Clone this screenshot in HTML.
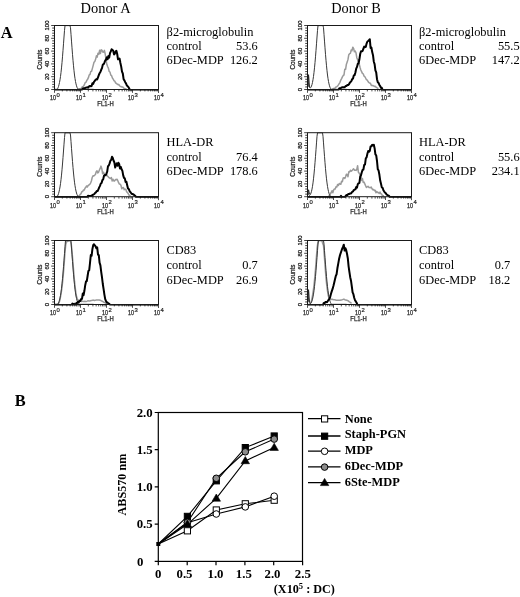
<!DOCTYPE html>
<html><head><meta charset="utf-8"><title>Figure</title>
<style>
html,body{margin:0;padding:0;background:#fff;}
body{width:520px;height:597px;overflow:hidden;}
svg{display:block;}
</style></head><body>
<svg width="520" height="597" viewBox="0 0 520 597">
<rect width="520" height="597" fill="#fff"/>
<g><clipPath id="c3"><rect x="54.0" y="25.0" width="105.0" height="65.6"/></clipPath><g clip-path="url(#c3)">
<path d="M78.0 89.2 L78.8 89.1 L79.6 88.8 L80.4 88.9 L81.2 88.4 L82.0 87.2 L82.8 86.6 L83.6 86.2 L84.4 84.7 L85.2 82.6 L86.0 82.3 L86.8 80.4 L87.6 79.3 L88.4 77.7 L89.2 74.9 L90.0 74.5 L90.8 71.4 L91.6 71.3 L92.4 68.4 L93.2 65.4 L94.0 62.3 L94.8 61.4 L95.6 59.3 L96.4 55.8 L97.2 57.2 L98.0 53.2 L98.8 54.3 L99.6 50.3 L100.4 53.5 L101.2 49.7 L102.0 50.4 L102.8 52.1 L103.6 52.2 L104.4 50.4 L105.2 54.0 L106.0 59.2 L106.8 64.3 L107.6 66.5 L108.4 68.1 L109.2 71.5 L110.0 72.1 L110.8 75.1 L111.6 75.7 L112.4 78.0 L113.2 79.1 L114.0 80.8 L114.8 81.1 L115.6 83.0 L116.4 83.3 L117.2 84.2 L118.0 84.7 L118.8 84.4 L119.6 85.8 L120.4 86.5 L121.2 86.6 L122.0 87.1 L122.8 87.1 L123.6 88.0 L124.4 88.4 L125.2 88.7 L126.0 89.2 L126.8 89.1" fill="none" stroke="#9a9a9a" stroke-width="1.50" stroke-linejoin="round"/>
<path d="M54.5 89.3 L55.0 89.3 L55.5 89.3 L56.0 89.3 L56.5 89.3 L57.0 89.3 L57.5 88.8 L58.0 87.8 L58.5 86.5 L59.0 84.7 L59.5 82.5 L60.0 79.8 L60.5 76.5 L61.0 72.5 L61.5 67.9 L62.0 62.6 L62.5 56.8 L63.0 50.4 L63.5 43.8 L64.0 37.0 L64.5 30.4 L65.0 25.6 L65.5 25.6 L66.0 25.6 L66.5 25.6 L67.0 25.6 L67.5 25.6 L68.0 25.6 L68.5 25.6 L69.0 25.6 L69.5 25.6 L70.0 25.6 L70.5 27.8 L71.0 34.3 L71.5 41.1 L72.0 47.8 L72.5 54.3 L73.0 60.3 L73.5 65.8 L74.0 70.7 L74.5 75.0 L75.0 78.5 L75.5 81.5 L76.0 83.9 L76.5 85.8 L77.0 87.3 L77.5 88.4 L78.0 89.3 L78.5 89.3 L79.0 89.3 L79.5 89.3 L80.0 89.3 L80.5 89.3 L81.0 89.3 L81.5 89.3 L82.0 89.3 L82.5 89.3 L83.0 89.3 L83.5 89.3 L84.0 89.3 L84.5 89.3 L85.0 89.3 L85.5 89.3 L86.0 89.3 L86.5 89.3 L87.0 89.3 L87.5 89.3 L88.0 89.3 L88.5 89.3 L89.0 89.3 L89.5 89.3 L90.0 89.3 L90.5 89.3 L91.0 89.3 L91.5 89.3 L92.0 89.3 L92.5 89.3 L93.0 89.3 L93.5 89.3" fill="none" stroke="#383838" stroke-width="1.0" stroke-linejoin="round"/>
<path d="M55.0 89.9 L78.0 89.9 L78.8 89.9 L79.6 89.9 L80.4 89.9 L81.2 89.9 L82.0 89.9 L82.8 88.4 L83.6 88.3 L84.4 88.4 L85.2 88.0 L86.0 87.5 L86.8 87.6 L87.6 87.3 L88.4 87.6 L89.2 86.1 L90.0 85.9 L90.8 86.3 L91.6 86.0 L92.4 83.3 L93.2 83.9 L94.0 81.9 L94.8 80.9 L95.6 79.7 L96.4 79.3 L97.2 79.4 L98.0 77.3 L98.8 75.2 L99.6 73.2 L100.4 72.0 L101.2 69.8 L102.0 68.1 L102.8 64.6 L103.6 64.2 L104.4 62.6 L105.2 60.5 L106.0 59.7 L106.8 57.4 L107.6 59.3 L108.4 56.1 L109.2 57.7 L110.0 53.1 L110.8 51.4 L111.6 49.3 L112.4 49.8 L113.2 50.7 L114.0 54.4 L114.8 53.7 L115.6 51.5 L116.4 50.8 L117.2 54.0 L118.0 59.3 L118.8 59.3 L119.6 58.6 L120.4 63.0 L121.2 66.6 L122.0 71.7 L122.8 73.5 L123.6 79.2 L124.4 80.4 L125.2 82.2 L126.0 83.4 L126.8 85.4 L127.6 86.2 L128.4 87.1 L129.2 88.5 L130.0 89.9 L158.0 89.9" fill="none" stroke="#000" stroke-width="2.0" stroke-linejoin="round"/>
</g>
<rect x="54.5" y="25.5" width="104.0" height="64.0" fill="none" stroke="#1a1a1a" stroke-width="1"/>
<path d="M51.2 89.50 h3.0 M52.2 86.94 h2.0 M52.2 84.38 h2.0 M52.2 81.82 h2.0 M52.2 79.26 h2.0 M51.2 76.70 h3.0 M52.2 74.14 h2.0 M52.2 71.58 h2.0 M52.2 69.02 h2.0 M52.2 66.46 h2.0 M51.2 63.90 h3.0 M52.2 61.34 h2.0 M52.2 58.78 h2.0 M52.2 56.22 h2.0 M52.2 53.66 h2.0 M51.2 51.10 h3.0 M52.2 48.54 h2.0 M52.2 45.98 h2.0 M52.2 43.42 h2.0 M52.2 40.86 h2.0 M51.2 38.30 h3.0 M52.2 35.74 h2.0 M52.2 33.18 h2.0 M52.2 30.62 h2.0 M52.2 28.06 h2.0 M51.2 25.50 h3.0" stroke="#111" stroke-width="0.8" fill="none"/>
<path d="M54.50 89.8 v3.0 M62.33 89.8 v1.6 M66.91 89.8 v1.6 M70.15 89.8 v1.6 M72.67 89.8 v1.6 M74.73 89.8 v1.6 M76.47 89.8 v1.6 M77.98 89.8 v1.6 M79.31 89.8 v1.6 M80.50 89.8 v3.0 M88.33 89.8 v1.6 M92.91 89.8 v1.6 M96.15 89.8 v1.6 M98.67 89.8 v1.6 M100.73 89.8 v1.6 M102.47 89.8 v1.6 M103.98 89.8 v1.6 M105.31 89.8 v1.6 M106.50 89.8 v3.0 M114.33 89.8 v1.6 M118.91 89.8 v1.6 M122.15 89.8 v1.6 M124.67 89.8 v1.6 M126.73 89.8 v1.6 M128.47 89.8 v1.6 M129.98 89.8 v1.6 M131.31 89.8 v1.6 M132.50 89.8 v3.0 M140.33 89.8 v1.6 M144.91 89.8 v1.6 M148.15 89.8 v1.6 M150.67 89.8 v1.6 M152.73 89.8 v1.6 M154.47 89.8 v1.6 M155.98 89.8 v1.6 M157.31 89.8 v1.6 M158.50 89.8 v3.2" stroke="#111" stroke-width="0.75" fill="none"/>
<text transform="translate(49.2 89.5) rotate(-90)" text-anchor="middle" font-family="Liberation Sans, Arial, sans-serif" font-size="5.9" fill="#222" stroke="#222" stroke-width="0.25">0</text>
<text transform="translate(49.2 76.7) rotate(-90)" text-anchor="middle" font-family="Liberation Sans, Arial, sans-serif" font-size="5.9" fill="#222" stroke="#222" stroke-width="0.25">20</text>
<text transform="translate(49.2 63.9) rotate(-90)" text-anchor="middle" font-family="Liberation Sans, Arial, sans-serif" font-size="5.9" fill="#222" stroke="#222" stroke-width="0.25">40</text>
<text transform="translate(49.2 51.1) rotate(-90)" text-anchor="middle" font-family="Liberation Sans, Arial, sans-serif" font-size="5.9" fill="#222" stroke="#222" stroke-width="0.25">60</text>
<text transform="translate(49.2 38.3) rotate(-90)" text-anchor="middle" font-family="Liberation Sans, Arial, sans-serif" font-size="5.9" fill="#222" stroke="#222" stroke-width="0.25">80</text>
<text transform="translate(49.2 25.5) rotate(-90)" text-anchor="middle" font-family="Liberation Sans, Arial, sans-serif" font-size="5.9" fill="#222" stroke="#222" stroke-width="0.25">100</text>
<text transform="translate(42.1 59.5) rotate(-90)" text-anchor="middle" font-family="Liberation Sans, Arial, sans-serif" font-size="6.6" fill="#222" stroke="#222" stroke-width="0.25" textLength="20" lengthAdjust="spacingAndGlyphs">Counts</text>
<text x="56.1" y="100.4" text-anchor="end" font-family="Liberation Sans, Arial, sans-serif" font-size="6.8" fill="#222" stroke="#222" stroke-width="0.25" textLength="6.0" lengthAdjust="spacingAndGlyphs">10</text>
<text x="56.4" y="96.6" text-anchor="start" font-family="Liberation Sans, Arial, sans-serif" font-size="5.9" fill="#222" stroke="#222" stroke-width="0.2">0</text>
<text x="82.1" y="100.4" text-anchor="end" font-family="Liberation Sans, Arial, sans-serif" font-size="6.8" fill="#222" stroke="#222" stroke-width="0.25" textLength="6.0" lengthAdjust="spacingAndGlyphs">10</text>
<text x="82.4" y="96.6" text-anchor="start" font-family="Liberation Sans, Arial, sans-serif" font-size="5.9" fill="#222" stroke="#222" stroke-width="0.2">1</text>
<text x="108.1" y="100.4" text-anchor="end" font-family="Liberation Sans, Arial, sans-serif" font-size="6.8" fill="#222" stroke="#222" stroke-width="0.25" textLength="6.0" lengthAdjust="spacingAndGlyphs">10</text>
<text x="108.4" y="96.6" text-anchor="start" font-family="Liberation Sans, Arial, sans-serif" font-size="5.9" fill="#222" stroke="#222" stroke-width="0.2">2</text>
<text x="134.1" y="100.4" text-anchor="end" font-family="Liberation Sans, Arial, sans-serif" font-size="6.8" fill="#222" stroke="#222" stroke-width="0.25" textLength="6.0" lengthAdjust="spacingAndGlyphs">10</text>
<text x="134.4" y="96.6" text-anchor="start" font-family="Liberation Sans, Arial, sans-serif" font-size="5.9" fill="#222" stroke="#222" stroke-width="0.2">3</text>
<text x="160.1" y="100.4" text-anchor="end" font-family="Liberation Sans, Arial, sans-serif" font-size="6.8" fill="#222" stroke="#222" stroke-width="0.25" textLength="6.0" lengthAdjust="spacingAndGlyphs">10</text>
<text x="160.4" y="96.6" text-anchor="start" font-family="Liberation Sans, Arial, sans-serif" font-size="5.9" fill="#222" stroke="#222" stroke-width="0.2">4</text>
<text x="105.5" y="106.4" text-anchor="middle" font-family="Liberation Sans, Arial, sans-serif" font-size="6.6" fill="#222" stroke="#222" stroke-width="0.25" textLength="16.4" lengthAdjust="spacingAndGlyphs">FL1-H</text></g>
<g><clipPath id="c13"><rect x="54.0" y="132.2" width="105.0" height="65.6"/></clipPath><g clip-path="url(#c13)">
<path d="M77.0 196.6 L77.8 196.1 L78.6 196.0 L79.4 195.7 L80.2 194.3 L81.0 193.8 L81.8 191.7 L82.6 191.6 L83.4 190.0 L84.2 190.1 L85.0 188.3 L85.8 187.3 L86.6 186.0 L87.4 187.0 L88.2 185.4 L89.0 185.0 L89.8 184.2 L90.6 183.1 L91.4 181.0 L92.2 177.5 L93.0 175.8 L93.8 176.0 L94.6 175.3 L95.4 174.5 L96.2 171.7 L97.0 170.8 L97.8 172.9 L98.6 172.1 L99.4 170.0 L100.2 168.4 L101.0 166.1 L101.8 168.7 L102.6 173.7 L103.4 172.2 L104.2 173.8 L105.0 174.8 L105.8 175.0 L106.6 173.6 L107.4 176.2 L108.2 176.7 L109.0 177.7 L109.8 178.2 L110.6 178.4 L111.4 177.6 L112.2 181.0 L113.0 179.3 L113.8 181.0 L114.6 180.9 L115.4 179.6 L116.2 179.8 L117.0 179.2 L117.8 180.7 L118.6 182.7 L119.4 184.1 L120.2 184.2 L121.0 185.5 L121.8 188.7 L122.6 187.8 L123.4 187.6 L124.2 189.7 L125.0 189.2 L125.8 189.2 L126.6 191.8 L127.4 192.3 L128.2 193.6 L129.0 195.3 L129.8 195.3 L130.6 195.7" fill="none" stroke="#9a9a9a" stroke-width="1.50" stroke-linejoin="round"/>
<path d="M54.5 196.5 L55.0 196.5 L55.5 196.5 L56.0 196.5 L56.5 196.5 L57.0 196.5 L57.5 196.0 L58.0 195.0 L58.5 193.7 L59.0 191.9 L59.5 189.7 L60.0 187.0 L60.5 183.7 L61.0 179.7 L61.5 175.1 L62.0 169.8 L62.5 164.0 L63.0 157.6 L63.5 151.0 L64.0 144.2 L64.5 137.6 L65.0 132.8 L65.5 132.8 L66.0 132.8 L66.5 132.8 L67.0 132.8 L67.5 132.8 L68.0 132.8 L68.5 132.8 L69.0 132.8 L69.5 132.8 L70.0 132.8 L70.5 135.0 L71.0 141.5 L71.5 148.3 L72.0 155.0 L72.5 161.5 L73.0 167.5 L73.5 173.0 L74.0 177.9 L74.5 182.2 L75.0 185.7 L75.5 188.7 L76.0 191.1 L76.5 193.0 L77.0 194.5 L77.5 195.6 L78.0 196.5 L78.5 196.5 L79.0 196.5 L79.5 196.5 L80.0 196.5 L80.5 196.5 L81.0 196.5 L81.5 196.5 L82.0 196.5 L82.5 196.5 L83.0 196.5 L83.5 196.5 L84.0 196.5 L84.5 196.5 L85.0 196.5 L85.5 196.5 L86.0 196.5 L86.5 196.5 L87.0 196.5 L87.5 196.5 L88.0 196.5 L88.5 196.5 L89.0 196.5 L89.5 196.5 L90.0 196.5 L90.5 196.5 L91.0 196.5 L91.5 196.5 L92.0 196.5 L92.5 196.5 L93.0 196.5 L93.5 196.5" fill="none" stroke="#383838" stroke-width="1.0" stroke-linejoin="round"/>
<path d="M55.0 197.1 L84.0 197.1 L84.8 197.1 L85.6 197.1 L86.4 197.1 L87.2 197.1 L88.0 195.8 L88.8 196.0 L89.6 195.9 L90.4 195.9 L91.2 195.7 L92.0 195.3 L92.8 194.9 L93.6 194.5 L94.4 194.0 L95.2 192.8 L96.0 192.3 L96.8 190.9 L97.6 191.1 L98.4 189.3 L99.2 187.4 L100.0 185.9 L100.8 183.5 L101.6 183.0 L102.4 180.1 L103.2 179.4 L104.0 175.7 L104.8 174.9 L105.6 175.2 L106.4 173.6 L107.2 171.6 L108.0 166.2 L108.8 165.5 L109.6 163.4 L110.4 160.7 L111.2 159.9 L112.0 156.7 L112.8 158.1 L113.6 160.8 L114.4 162.5 L115.2 167.5 L116.0 165.2 L116.8 163.3 L117.6 165.7 L118.4 162.8 L119.2 164.1 L120.0 168.5 L120.8 167.0 L121.6 169.2 L122.4 170.9 L123.2 175.4 L124.0 177.9 L124.8 178.4 L125.6 182.0 L126.4 181.7 L127.2 185.2 L128.0 188.4 L128.8 189.1 L129.6 191.0 L130.4 192.2 L131.2 193.2 L132.0 193.9 L132.8 193.9 L133.6 194.7 L134.4 195.2 L135.2 195.8 L136.0 197.1 L158.0 197.1" fill="none" stroke="#000" stroke-width="2.0" stroke-linejoin="round"/>
</g>
<rect x="54.5" y="132.7" width="104.0" height="64.0" fill="none" stroke="#1a1a1a" stroke-width="1"/>
<path d="M51.2 196.70 h3.0 M52.2 194.14 h2.0 M52.2 191.58 h2.0 M52.2 189.02 h2.0 M52.2 186.46 h2.0 M51.2 183.90 h3.0 M52.2 181.34 h2.0 M52.2 178.78 h2.0 M52.2 176.22 h2.0 M52.2 173.66 h2.0 M51.2 171.10 h3.0 M52.2 168.54 h2.0 M52.2 165.98 h2.0 M52.2 163.42 h2.0 M52.2 160.86 h2.0 M51.2 158.30 h3.0 M52.2 155.74 h2.0 M52.2 153.18 h2.0 M52.2 150.62 h2.0 M52.2 148.06 h2.0 M51.2 145.50 h3.0 M52.2 142.94 h2.0 M52.2 140.38 h2.0 M52.2 137.82 h2.0 M52.2 135.26 h2.0 M51.2 132.70 h3.0" stroke="#111" stroke-width="0.8" fill="none"/>
<path d="M54.50 197.0 v3.0 M62.33 197.0 v1.6 M66.91 197.0 v1.6 M70.15 197.0 v1.6 M72.67 197.0 v1.6 M74.73 197.0 v1.6 M76.47 197.0 v1.6 M77.98 197.0 v1.6 M79.31 197.0 v1.6 M80.50 197.0 v3.0 M88.33 197.0 v1.6 M92.91 197.0 v1.6 M96.15 197.0 v1.6 M98.67 197.0 v1.6 M100.73 197.0 v1.6 M102.47 197.0 v1.6 M103.98 197.0 v1.6 M105.31 197.0 v1.6 M106.50 197.0 v3.0 M114.33 197.0 v1.6 M118.91 197.0 v1.6 M122.15 197.0 v1.6 M124.67 197.0 v1.6 M126.73 197.0 v1.6 M128.47 197.0 v1.6 M129.98 197.0 v1.6 M131.31 197.0 v1.6 M132.50 197.0 v3.0 M140.33 197.0 v1.6 M144.91 197.0 v1.6 M148.15 197.0 v1.6 M150.67 197.0 v1.6 M152.73 197.0 v1.6 M154.47 197.0 v1.6 M155.98 197.0 v1.6 M157.31 197.0 v1.6 M158.50 197.0 v3.2" stroke="#111" stroke-width="0.75" fill="none"/>
<text transform="translate(49.2 196.7) rotate(-90)" text-anchor="middle" font-family="Liberation Sans, Arial, sans-serif" font-size="5.9" fill="#222" stroke="#222" stroke-width="0.25">0</text>
<text transform="translate(49.2 183.9) rotate(-90)" text-anchor="middle" font-family="Liberation Sans, Arial, sans-serif" font-size="5.9" fill="#222" stroke="#222" stroke-width="0.25">20</text>
<text transform="translate(49.2 171.1) rotate(-90)" text-anchor="middle" font-family="Liberation Sans, Arial, sans-serif" font-size="5.9" fill="#222" stroke="#222" stroke-width="0.25">40</text>
<text transform="translate(49.2 158.3) rotate(-90)" text-anchor="middle" font-family="Liberation Sans, Arial, sans-serif" font-size="5.9" fill="#222" stroke="#222" stroke-width="0.25">60</text>
<text transform="translate(49.2 145.5) rotate(-90)" text-anchor="middle" font-family="Liberation Sans, Arial, sans-serif" font-size="5.9" fill="#222" stroke="#222" stroke-width="0.25">80</text>
<text transform="translate(49.2 132.7) rotate(-90)" text-anchor="middle" font-family="Liberation Sans, Arial, sans-serif" font-size="5.9" fill="#222" stroke="#222" stroke-width="0.25">100</text>
<text transform="translate(42.1 166.7) rotate(-90)" text-anchor="middle" font-family="Liberation Sans, Arial, sans-serif" font-size="6.6" fill="#222" stroke="#222" stroke-width="0.25" textLength="20" lengthAdjust="spacingAndGlyphs">Counts</text>
<text x="56.1" y="207.6" text-anchor="end" font-family="Liberation Sans, Arial, sans-serif" font-size="6.8" fill="#222" stroke="#222" stroke-width="0.25" textLength="6.0" lengthAdjust="spacingAndGlyphs">10</text>
<text x="56.4" y="203.8" text-anchor="start" font-family="Liberation Sans, Arial, sans-serif" font-size="5.9" fill="#222" stroke="#222" stroke-width="0.2">0</text>
<text x="82.1" y="207.6" text-anchor="end" font-family="Liberation Sans, Arial, sans-serif" font-size="6.8" fill="#222" stroke="#222" stroke-width="0.25" textLength="6.0" lengthAdjust="spacingAndGlyphs">10</text>
<text x="82.4" y="203.8" text-anchor="start" font-family="Liberation Sans, Arial, sans-serif" font-size="5.9" fill="#222" stroke="#222" stroke-width="0.2">1</text>
<text x="108.1" y="207.6" text-anchor="end" font-family="Liberation Sans, Arial, sans-serif" font-size="6.8" fill="#222" stroke="#222" stroke-width="0.25" textLength="6.0" lengthAdjust="spacingAndGlyphs">10</text>
<text x="108.4" y="203.8" text-anchor="start" font-family="Liberation Sans, Arial, sans-serif" font-size="5.9" fill="#222" stroke="#222" stroke-width="0.2">2</text>
<text x="134.1" y="207.6" text-anchor="end" font-family="Liberation Sans, Arial, sans-serif" font-size="6.8" fill="#222" stroke="#222" stroke-width="0.25" textLength="6.0" lengthAdjust="spacingAndGlyphs">10</text>
<text x="134.4" y="203.8" text-anchor="start" font-family="Liberation Sans, Arial, sans-serif" font-size="5.9" fill="#222" stroke="#222" stroke-width="0.2">3</text>
<text x="160.1" y="207.6" text-anchor="end" font-family="Liberation Sans, Arial, sans-serif" font-size="6.8" fill="#222" stroke="#222" stroke-width="0.25" textLength="6.0" lengthAdjust="spacingAndGlyphs">10</text>
<text x="160.4" y="203.8" text-anchor="start" font-family="Liberation Sans, Arial, sans-serif" font-size="5.9" fill="#222" stroke="#222" stroke-width="0.2">4</text>
<text x="105.5" y="213.6" text-anchor="middle" font-family="Liberation Sans, Arial, sans-serif" font-size="6.6" fill="#222" stroke="#222" stroke-width="0.25" textLength="16.4" lengthAdjust="spacingAndGlyphs">FL1-H</text></g>
<g><clipPath id="c23"><rect x="54.0" y="240.0" width="105.0" height="65.6"/></clipPath><g clip-path="url(#c23)">
<path d="M54.5 304.4 L55.3 304.4 L56.1 304.4 L56.9 304.4 L57.7 304.3 L58.5 303.5 L59.3 302.0 L60.1 299.2 L60.9 294.7 L61.7 289.7 L62.5 282.8 L63.3 274.7 L64.1 264.7 L64.9 253.6 L65.7 244.9 L66.5 241.8 L67.3 241.5 L68.1 241.1 L68.9 240.8 L69.7 240.7 L70.5 240.6 L71.3 244.4 L72.1 252.5 L72.9 261.8 L73.7 272.1 L74.5 281.2 L75.3 288.3 L76.1 294.5 L76.9 297.9 L77.7 299.8 L78.5 300.1 L79.3 300.8 L80.1 301.4 L80.9 301.1 L81.7 301.6 L82.5 301.1 L83.3 301.4 L84.1 301.5 L84.9 301.3 L85.7 301.4 L86.5 301.4 L87.3 301.1 L88.1 300.7 L88.9 301.1 L89.7 301.1 L90.5 300.7 L91.3 300.5 L92.1 300.4 L92.9 300.1 L93.7 300.2 L94.5 300.4 L95.3 300.2 L96.1 300.1 L96.9 299.9 L97.7 300.0 L98.5 300.1 L99.3 300.1 L100.1 300.3 L100.9 300.5 L101.7 301.1 L102.5 301.3 L103.3 301.8 L104.1 302.4 L104.9 302.5 L105.7 303.2 L106.5 303.4 L107.3 303.6" fill="none" stroke="#9a9a9a" stroke-width="1.50" stroke-linejoin="round"/>
<path d="M54.5 304.3 L55.0 304.3 L55.5 304.3 L56.0 304.3 L56.5 304.3 L57.0 304.3 L57.5 304.3 L58.0 304.0 L58.5 303.0 L59.0 301.8 L59.5 300.1 L60.0 298.0 L60.5 295.4 L61.0 292.2 L61.5 288.3 L62.0 283.8 L62.5 278.7 L63.0 273.0 L63.5 266.7 L64.0 260.2 L64.5 253.4 L65.0 246.7 L65.5 240.6 L66.0 240.6 L66.5 240.6 L67.0 240.6 L67.5 240.6 L68.0 240.6 L68.5 240.6 L69.0 240.6 L69.5 240.6 L70.0 240.6 L70.5 240.6 L71.0 241.5 L71.5 248.0 L72.0 254.7 L72.5 261.5 L73.0 268.0 L73.5 274.2 L74.0 279.8 L74.5 284.8 L75.0 289.2 L75.5 292.9 L76.0 296.0 L76.5 298.5 L77.0 300.5 L77.5 302.0 L78.0 303.2 L78.5 304.1 L79.0 304.3 L79.5 304.3 L80.0 304.3 L80.5 304.3 L81.0 304.3 L81.5 304.3 L82.0 304.3 L82.5 304.3 L83.0 304.3 L83.5 304.3 L84.0 304.3 L84.5 304.3 L85.0 304.3 L85.5 304.3 L86.0 304.3 L86.5 304.3 L87.0 304.3 L87.5 304.3 L88.0 304.3 L88.5 304.3 L89.0 304.3 L89.5 304.3 L90.0 304.3 L90.5 304.3 L91.0 304.3 L91.5 304.3 L92.0 304.3 L92.5 304.3 L93.0 304.3 L93.5 304.3" fill="none" stroke="#383838" stroke-width="1.0" stroke-linejoin="round"/>
<path d="M55.0 304.9 L66.0 304.9 L66.8 304.9 L67.6 304.9 L68.4 304.9 L69.2 304.9 L70.0 304.9 L70.8 304.9 L71.6 304.9 L72.4 303.6 L73.2 304.9 L74.0 303.7 L74.8 304.9 L75.6 304.9 L76.4 303.0 L77.2 302.9 L78.0 301.8 L78.8 302.2 L79.6 300.8 L80.4 300.9 L81.2 299.0 L82.0 298.9 L82.8 293.5 L83.6 295.1 L84.4 290.8 L85.2 285.4 L86.0 281.5 L86.8 281.1 L87.6 276.0 L88.4 271.0 L89.2 270.3 L90.0 263.0 L90.8 255.1 L91.6 255.8 L92.4 249.1 L93.2 245.2 L94.0 244.2 L94.8 245.4 L95.6 246.4 L96.4 248.3 L97.2 247.4 L98.0 254.6 L98.8 255.1 L99.6 262.8 L100.4 265.4 L101.2 271.9 L102.0 277.4 L102.8 284.0 L103.6 289.1 L104.4 294.6 L105.2 299.2 L106.0 301.0 L106.8 302.4 L107.6 302.5 L108.4 303.5 L109.2 303.7 L110.0 304.9 L158.0 304.9" fill="none" stroke="#000" stroke-width="2.0" stroke-linejoin="round"/>
</g>
<rect x="54.5" y="240.5" width="104.0" height="64.0" fill="none" stroke="#1a1a1a" stroke-width="1"/>
<path d="M51.2 304.50 h3.0 M52.2 301.94 h2.0 M52.2 299.38 h2.0 M52.2 296.82 h2.0 M52.2 294.26 h2.0 M51.2 291.70 h3.0 M52.2 289.14 h2.0 M52.2 286.58 h2.0 M52.2 284.02 h2.0 M52.2 281.46 h2.0 M51.2 278.90 h3.0 M52.2 276.34 h2.0 M52.2 273.78 h2.0 M52.2 271.22 h2.0 M52.2 268.66 h2.0 M51.2 266.10 h3.0 M52.2 263.54 h2.0 M52.2 260.98 h2.0 M52.2 258.42 h2.0 M52.2 255.86 h2.0 M51.2 253.30 h3.0 M52.2 250.74 h2.0 M52.2 248.18 h2.0 M52.2 245.62 h2.0 M52.2 243.06 h2.0 M51.2 240.50 h3.0" stroke="#111" stroke-width="0.8" fill="none"/>
<path d="M54.50 304.8 v3.0 M62.33 304.8 v1.6 M66.91 304.8 v1.6 M70.15 304.8 v1.6 M72.67 304.8 v1.6 M74.73 304.8 v1.6 M76.47 304.8 v1.6 M77.98 304.8 v1.6 M79.31 304.8 v1.6 M80.50 304.8 v3.0 M88.33 304.8 v1.6 M92.91 304.8 v1.6 M96.15 304.8 v1.6 M98.67 304.8 v1.6 M100.73 304.8 v1.6 M102.47 304.8 v1.6 M103.98 304.8 v1.6 M105.31 304.8 v1.6 M106.50 304.8 v3.0 M114.33 304.8 v1.6 M118.91 304.8 v1.6 M122.15 304.8 v1.6 M124.67 304.8 v1.6 M126.73 304.8 v1.6 M128.47 304.8 v1.6 M129.98 304.8 v1.6 M131.31 304.8 v1.6 M132.50 304.8 v3.0 M140.33 304.8 v1.6 M144.91 304.8 v1.6 M148.15 304.8 v1.6 M150.67 304.8 v1.6 M152.73 304.8 v1.6 M154.47 304.8 v1.6 M155.98 304.8 v1.6 M157.31 304.8 v1.6 M158.50 304.8 v3.2" stroke="#111" stroke-width="0.75" fill="none"/>
<text transform="translate(49.2 304.5) rotate(-90)" text-anchor="middle" font-family="Liberation Sans, Arial, sans-serif" font-size="5.9" fill="#222" stroke="#222" stroke-width="0.25">0</text>
<text transform="translate(49.2 291.7) rotate(-90)" text-anchor="middle" font-family="Liberation Sans, Arial, sans-serif" font-size="5.9" fill="#222" stroke="#222" stroke-width="0.25">20</text>
<text transform="translate(49.2 278.9) rotate(-90)" text-anchor="middle" font-family="Liberation Sans, Arial, sans-serif" font-size="5.9" fill="#222" stroke="#222" stroke-width="0.25">40</text>
<text transform="translate(49.2 266.1) rotate(-90)" text-anchor="middle" font-family="Liberation Sans, Arial, sans-serif" font-size="5.9" fill="#222" stroke="#222" stroke-width="0.25">60</text>
<text transform="translate(49.2 253.3) rotate(-90)" text-anchor="middle" font-family="Liberation Sans, Arial, sans-serif" font-size="5.9" fill="#222" stroke="#222" stroke-width="0.25">80</text>
<text transform="translate(49.2 240.5) rotate(-90)" text-anchor="middle" font-family="Liberation Sans, Arial, sans-serif" font-size="5.9" fill="#222" stroke="#222" stroke-width="0.25">100</text>
<text transform="translate(42.1 274.5) rotate(-90)" text-anchor="middle" font-family="Liberation Sans, Arial, sans-serif" font-size="6.6" fill="#222" stroke="#222" stroke-width="0.25" textLength="20" lengthAdjust="spacingAndGlyphs">Counts</text>
<text x="56.1" y="315.4" text-anchor="end" font-family="Liberation Sans, Arial, sans-serif" font-size="6.8" fill="#222" stroke="#222" stroke-width="0.25" textLength="6.0" lengthAdjust="spacingAndGlyphs">10</text>
<text x="56.4" y="311.6" text-anchor="start" font-family="Liberation Sans, Arial, sans-serif" font-size="5.9" fill="#222" stroke="#222" stroke-width="0.2">0</text>
<text x="82.1" y="315.4" text-anchor="end" font-family="Liberation Sans, Arial, sans-serif" font-size="6.8" fill="#222" stroke="#222" stroke-width="0.25" textLength="6.0" lengthAdjust="spacingAndGlyphs">10</text>
<text x="82.4" y="311.6" text-anchor="start" font-family="Liberation Sans, Arial, sans-serif" font-size="5.9" fill="#222" stroke="#222" stroke-width="0.2">1</text>
<text x="108.1" y="315.4" text-anchor="end" font-family="Liberation Sans, Arial, sans-serif" font-size="6.8" fill="#222" stroke="#222" stroke-width="0.25" textLength="6.0" lengthAdjust="spacingAndGlyphs">10</text>
<text x="108.4" y="311.6" text-anchor="start" font-family="Liberation Sans, Arial, sans-serif" font-size="5.9" fill="#222" stroke="#222" stroke-width="0.2">2</text>
<text x="134.1" y="315.4" text-anchor="end" font-family="Liberation Sans, Arial, sans-serif" font-size="6.8" fill="#222" stroke="#222" stroke-width="0.25" textLength="6.0" lengthAdjust="spacingAndGlyphs">10</text>
<text x="134.4" y="311.6" text-anchor="start" font-family="Liberation Sans, Arial, sans-serif" font-size="5.9" fill="#222" stroke="#222" stroke-width="0.2">3</text>
<text x="160.1" y="315.4" text-anchor="end" font-family="Liberation Sans, Arial, sans-serif" font-size="6.8" fill="#222" stroke="#222" stroke-width="0.25" textLength="6.0" lengthAdjust="spacingAndGlyphs">10</text>
<text x="160.4" y="311.6" text-anchor="start" font-family="Liberation Sans, Arial, sans-serif" font-size="5.9" fill="#222" stroke="#222" stroke-width="0.2">4</text>
<text x="105.5" y="321.4" text-anchor="middle" font-family="Liberation Sans, Arial, sans-serif" font-size="6.6" fill="#222" stroke="#222" stroke-width="0.25" textLength="16.4" lengthAdjust="spacingAndGlyphs">FL1-H</text></g>
<g><clipPath id="c33"><rect x="307.0" y="25.0" width="105.0" height="65.6"/></clipPath><g clip-path="url(#c33)">
<path d="M332.0 89.2 L332.8 88.9 L333.6 88.5 L334.4 88.4 L335.2 88.0 L336.0 87.0 L336.8 86.6 L337.6 86.0 L338.4 84.9 L339.2 83.6 L340.0 82.3 L340.8 80.1 L341.6 78.6 L342.4 76.9 L343.2 75.5 L344.0 75.0 L344.8 69.2 L345.6 69.3 L346.4 64.2 L347.2 62.1 L348.0 59.4 L348.8 54.7 L349.6 53.7 L350.4 53.3 L351.2 49.9 L352.0 50.7 L352.8 47.2 L353.6 48.4 L354.4 51.8 L355.2 51.1 L356.0 52.8 L356.8 57.7 L357.6 59.7 L358.4 63.6 L359.2 63.8 L360.0 67.2 L360.8 70.0 L361.6 71.6 L362.4 73.4 L363.2 73.8 L364.0 76.1 L364.8 76.6 L365.6 78.0 L366.4 79.8 L367.2 79.9 L368.0 81.5 L368.8 82.5 L369.6 83.1 L370.4 83.3 L371.2 85.1 L372.0 85.7 L372.8 85.4 L373.6 85.8 L374.4 86.4 L375.2 86.3 L376.0 87.2 L376.8 87.7 L377.6 88.1 L378.4 88.6" fill="none" stroke="#9a9a9a" stroke-width="1.50" stroke-linejoin="round"/>
<path d="M307.5 75.1 L308.0 80.8 L308.5 84.3 L309.0 86.4 L309.5 87.5 L310.0 87.9 L310.5 87.8 L311.0 87.1 L311.5 86.0 L312.0 84.5 L312.5 82.4 L313.0 79.7 L313.5 76.4 L314.0 72.4 L314.5 67.8 L315.0 62.6 L315.5 56.8 L316.0 50.4 L316.5 43.8 L317.0 37.0 L317.5 30.4 L318.0 25.6 L318.5 25.6 L319.0 25.6 L319.5 25.6 L320.0 25.6 L320.5 25.6 L321.0 25.6 L321.5 25.6 L322.0 25.6 L322.5 25.6 L323.0 25.6 L323.5 27.8 L324.0 34.3 L324.5 41.1 L325.0 47.8 L325.5 54.3 L326.0 60.3 L326.5 65.8 L327.0 70.7 L327.5 75.0 L328.0 78.5 L328.5 81.5 L329.0 83.9 L329.5 85.8 L330.0 87.3 L330.5 88.4 L331.0 89.3 L331.5 89.3 L332.0 89.3 L332.5 89.3 L333.0 89.3 L333.5 89.3 L334.0 89.3 L334.5 89.3 L335.0 89.3 L335.5 89.3 L336.0 89.3 L336.5 89.3 L337.0 89.3 L337.5 89.3 L338.0 89.3 L338.5 89.3 L339.0 89.3 L339.5 89.3 L340.0 89.3 L340.5 89.3 L341.0 89.3 L341.5 89.3 L342.0 89.3 L342.5 89.3 L343.0 89.3 L343.5 89.3 L344.0 89.3 L344.5 89.3 L345.0 89.3 L345.5 89.3 L346.0 89.3 L346.5 89.3" fill="none" stroke="#383838" stroke-width="1.0" stroke-linejoin="round"/>
<path d="M308.4 74.5 L309.3 87.0" fill="none" stroke="#222" stroke-width="1.3"/>
<path d="M308.0 89.9 L333.0 89.9 L333.8 89.9 L334.6 89.9 L335.4 89.9 L336.2 89.9 L337.0 89.9 L337.8 89.9 L338.6 89.9 L339.4 88.3 L340.2 88.3 L341.0 87.9 L341.8 87.4 L342.6 87.2 L343.4 87.3 L344.2 87.2 L345.0 86.9 L345.8 85.9 L346.6 85.9 L347.4 85.0 L348.2 85.1 L349.0 84.3 L349.8 82.8 L350.6 82.0 L351.4 81.0 L352.2 79.1 L353.0 78.6 L353.8 75.4 L354.6 75.1 L355.4 72.5 L356.2 68.6 L357.0 66.9 L357.8 63.8 L358.6 63.3 L359.4 59.3 L360.2 54.0 L361.0 51.3 L361.8 51.3 L362.6 51.0 L363.4 48.7 L364.2 46.6 L365.0 47.2 L365.8 46.8 L366.6 43.6 L367.4 41.5 L368.2 41.0 L369.0 40.1 L369.8 39.2 L370.6 48.0 L371.4 47.5 L372.2 52.1 L373.0 55.2 L373.8 61.7 L374.6 64.1 L375.4 70.3 L376.2 72.3 L377.0 79.2 L377.8 82.2 L378.6 82.9 L379.4 85.0 L380.2 86.1 L381.0 87.7 L381.8 87.8 L382.6 89.9 L411.0 89.9" fill="none" stroke="#000" stroke-width="2.0" stroke-linejoin="round"/>
</g>
<rect x="307.5" y="25.5" width="104.0" height="64.0" fill="none" stroke="#1a1a1a" stroke-width="1"/>
<path d="M304.2 89.50 h3.0 M305.2 86.94 h2.0 M305.2 84.38 h2.0 M305.2 81.82 h2.0 M305.2 79.26 h2.0 M304.2 76.70 h3.0 M305.2 74.14 h2.0 M305.2 71.58 h2.0 M305.2 69.02 h2.0 M305.2 66.46 h2.0 M304.2 63.90 h3.0 M305.2 61.34 h2.0 M305.2 58.78 h2.0 M305.2 56.22 h2.0 M305.2 53.66 h2.0 M304.2 51.10 h3.0 M305.2 48.54 h2.0 M305.2 45.98 h2.0 M305.2 43.42 h2.0 M305.2 40.86 h2.0 M304.2 38.30 h3.0 M305.2 35.74 h2.0 M305.2 33.18 h2.0 M305.2 30.62 h2.0 M305.2 28.06 h2.0 M304.2 25.50 h3.0" stroke="#111" stroke-width="0.8" fill="none"/>
<path d="M307.50 89.8 v3.0 M315.33 89.8 v1.6 M319.91 89.8 v1.6 M323.15 89.8 v1.6 M325.67 89.8 v1.6 M327.73 89.8 v1.6 M329.47 89.8 v1.6 M330.98 89.8 v1.6 M332.31 89.8 v1.6 M333.50 89.8 v3.0 M341.33 89.8 v1.6 M345.91 89.8 v1.6 M349.15 89.8 v1.6 M351.67 89.8 v1.6 M353.73 89.8 v1.6 M355.47 89.8 v1.6 M356.98 89.8 v1.6 M358.31 89.8 v1.6 M359.50 89.8 v3.0 M367.33 89.8 v1.6 M371.91 89.8 v1.6 M375.15 89.8 v1.6 M377.67 89.8 v1.6 M379.73 89.8 v1.6 M381.47 89.8 v1.6 M382.98 89.8 v1.6 M384.31 89.8 v1.6 M385.50 89.8 v3.0 M393.33 89.8 v1.6 M397.91 89.8 v1.6 M401.15 89.8 v1.6 M403.67 89.8 v1.6 M405.73 89.8 v1.6 M407.47 89.8 v1.6 M408.98 89.8 v1.6 M410.31 89.8 v1.6 M411.50 89.8 v3.2" stroke="#111" stroke-width="0.75" fill="none"/>
<text transform="translate(302.2 89.5) rotate(-90)" text-anchor="middle" font-family="Liberation Sans, Arial, sans-serif" font-size="5.9" fill="#222" stroke="#222" stroke-width="0.25">0</text>
<text transform="translate(302.2 76.7) rotate(-90)" text-anchor="middle" font-family="Liberation Sans, Arial, sans-serif" font-size="5.9" fill="#222" stroke="#222" stroke-width="0.25">20</text>
<text transform="translate(302.2 63.9) rotate(-90)" text-anchor="middle" font-family="Liberation Sans, Arial, sans-serif" font-size="5.9" fill="#222" stroke="#222" stroke-width="0.25">40</text>
<text transform="translate(302.2 51.1) rotate(-90)" text-anchor="middle" font-family="Liberation Sans, Arial, sans-serif" font-size="5.9" fill="#222" stroke="#222" stroke-width="0.25">60</text>
<text transform="translate(302.2 38.3) rotate(-90)" text-anchor="middle" font-family="Liberation Sans, Arial, sans-serif" font-size="5.9" fill="#222" stroke="#222" stroke-width="0.25">80</text>
<text transform="translate(302.2 25.5) rotate(-90)" text-anchor="middle" font-family="Liberation Sans, Arial, sans-serif" font-size="5.9" fill="#222" stroke="#222" stroke-width="0.25">100</text>
<text transform="translate(295.1 59.5) rotate(-90)" text-anchor="middle" font-family="Liberation Sans, Arial, sans-serif" font-size="6.6" fill="#222" stroke="#222" stroke-width="0.25" textLength="20" lengthAdjust="spacingAndGlyphs">Counts</text>
<text x="309.1" y="100.4" text-anchor="end" font-family="Liberation Sans, Arial, sans-serif" font-size="6.8" fill="#222" stroke="#222" stroke-width="0.25" textLength="6.0" lengthAdjust="spacingAndGlyphs">10</text>
<text x="309.4" y="96.6" text-anchor="start" font-family="Liberation Sans, Arial, sans-serif" font-size="5.9" fill="#222" stroke="#222" stroke-width="0.2">0</text>
<text x="335.1" y="100.4" text-anchor="end" font-family="Liberation Sans, Arial, sans-serif" font-size="6.8" fill="#222" stroke="#222" stroke-width="0.25" textLength="6.0" lengthAdjust="spacingAndGlyphs">10</text>
<text x="335.4" y="96.6" text-anchor="start" font-family="Liberation Sans, Arial, sans-serif" font-size="5.9" fill="#222" stroke="#222" stroke-width="0.2">1</text>
<text x="361.1" y="100.4" text-anchor="end" font-family="Liberation Sans, Arial, sans-serif" font-size="6.8" fill="#222" stroke="#222" stroke-width="0.25" textLength="6.0" lengthAdjust="spacingAndGlyphs">10</text>
<text x="361.4" y="96.6" text-anchor="start" font-family="Liberation Sans, Arial, sans-serif" font-size="5.9" fill="#222" stroke="#222" stroke-width="0.2">2</text>
<text x="387.1" y="100.4" text-anchor="end" font-family="Liberation Sans, Arial, sans-serif" font-size="6.8" fill="#222" stroke="#222" stroke-width="0.25" textLength="6.0" lengthAdjust="spacingAndGlyphs">10</text>
<text x="387.4" y="96.6" text-anchor="start" font-family="Liberation Sans, Arial, sans-serif" font-size="5.9" fill="#222" stroke="#222" stroke-width="0.2">3</text>
<text x="413.1" y="100.4" text-anchor="end" font-family="Liberation Sans, Arial, sans-serif" font-size="6.8" fill="#222" stroke="#222" stroke-width="0.25" textLength="6.0" lengthAdjust="spacingAndGlyphs">10</text>
<text x="413.4" y="96.6" text-anchor="start" font-family="Liberation Sans, Arial, sans-serif" font-size="5.9" fill="#222" stroke="#222" stroke-width="0.2">4</text>
<text x="358.5" y="106.4" text-anchor="middle" font-family="Liberation Sans, Arial, sans-serif" font-size="6.6" fill="#222" stroke="#222" stroke-width="0.25" textLength="16.4" lengthAdjust="spacingAndGlyphs">FL1-H</text></g>
<g><clipPath id="c43"><rect x="307.0" y="132.2" width="105.0" height="65.6"/></clipPath><g clip-path="url(#c43)">
<path d="M328.0 196.1 L328.8 196.3 L329.6 195.9 L330.4 193.8 L331.2 192.5 L332.0 190.8 L332.8 192.7 L333.6 190.0 L334.4 189.0 L335.2 189.1 L336.0 186.8 L336.8 187.0 L337.6 184.5 L338.4 185.5 L339.2 183.5 L340.0 184.0 L340.8 184.2 L341.6 181.2 L342.4 181.7 L343.2 177.9 L344.0 177.7 L344.8 178.4 L345.6 176.8 L346.4 174.2 L347.2 174.5 L348.0 176.7 L348.8 171.8 L349.6 172.0 L350.4 170.3 L351.2 171.2 L352.0 170.6 L352.8 169.6 L353.6 168.8 L354.4 170.2 L355.2 170.1 L356.0 170.4 L356.8 169.5 L357.6 165.7 L358.4 172.3 L359.2 173.2 L360.0 174.8 L360.8 174.4 L361.6 180.4 L362.4 178.5 L363.2 182.4 L364.0 182.0 L364.8 183.9 L365.6 185.7 L366.4 187.5 L367.2 186.8 L368.0 186.3 L368.8 187.4 L369.6 187.5 L370.4 187.8 L371.2 187.1 L372.0 188.8 L372.8 189.8 L373.6 189.5 L374.4 190.7 L375.2 190.3 L376.0 192.7 L376.8 191.5 L377.6 192.5 L378.4 192.6 L379.2 193.5 L380.0 192.0 L380.8 193.8 L381.6 194.0 L382.4 195.6 L383.2 195.8 L384.0 195.8" fill="none" stroke="#9a9a9a" stroke-width="1.50" stroke-linejoin="round"/>
<path d="M307.5 190.1 L308.0 192.8 L308.5 194.4 L309.0 195.2 L309.5 195.3 L310.0 195.0 L310.5 194.2 L311.0 193.0 L311.5 191.3 L312.0 189.1 L312.5 186.3 L313.0 182.9 L313.5 178.8 L314.0 174.0 L314.5 168.7 L315.0 162.7 L315.5 156.3 L316.0 149.7 L316.5 142.9 L317.0 136.3 L317.5 132.8 L318.0 132.8 L318.5 132.8 L319.0 132.8 L319.5 132.8 L320.0 132.8 L320.5 132.8 L321.0 132.8 L321.5 132.8 L322.0 132.8 L322.5 132.8 L323.0 136.3 L323.5 142.9 L324.0 149.7 L324.5 156.3 L325.0 162.7 L325.5 168.7 L326.0 174.1 L326.5 178.8 L327.0 182.9 L327.5 186.4 L328.0 189.2 L328.5 191.5 L329.0 193.4 L329.5 194.8 L330.0 195.8 L330.5 196.5 L331.0 196.5 L331.5 196.5 L332.0 196.5 L332.5 196.5 L333.0 196.5 L333.5 196.5 L334.0 196.5 L334.5 196.5 L335.0 196.5 L335.5 196.5 L336.0 196.5 L336.5 196.5 L337.0 196.5 L337.5 196.5 L338.0 196.5 L338.5 196.5 L339.0 196.5 L339.5 196.5 L340.0 196.5 L340.5 196.5 L341.0 196.5 L341.5 196.5 L342.0 196.5 L342.5 196.5 L343.0 196.5 L343.5 196.5 L344.0 196.5 L344.5 196.5 L345.0 196.5 L345.5 196.5 L346.0 196.5 L346.5 196.5" fill="none" stroke="#383838" stroke-width="1.0" stroke-linejoin="round"/>
<path d="M308.4 189.7 L309.3 194.2" fill="none" stroke="#222" stroke-width="1.3"/>
<path d="M308.0 197.1 L337.0 197.1 L337.8 197.1 L338.6 197.1 L339.4 197.1 L340.2 197.1 L341.0 195.9 L341.8 197.1 L342.6 197.1 L343.4 197.1 L344.2 197.1 L345.0 197.1 L345.8 195.8 L346.6 195.0 L347.4 195.2 L348.2 194.0 L349.0 194.1 L349.8 193.6 L350.6 193.6 L351.4 193.1 L352.2 191.8 L353.0 191.4 L353.8 190.1 L354.6 189.6 L355.4 189.4 L356.2 187.0 L357.0 187.6 L357.8 184.1 L358.6 183.3 L359.4 182.8 L360.2 176.6 L361.0 175.2 L361.8 172.3 L362.6 169.9 L363.4 169.5 L364.2 164.9 L365.0 164.6 L365.8 158.4 L366.6 157.4 L367.4 153.7 L368.2 150.9 L369.0 151.8 L369.8 150.9 L370.6 146.4 L371.4 146.2 L372.2 144.8 L373.0 145.4 L373.8 144.7 L374.6 148.2 L375.4 154.3 L376.2 155.3 L377.0 161.0 L377.8 169.3 L378.6 170.6 L379.4 174.8 L380.2 180.6 L381.0 183.8 L381.8 187.4 L382.6 187.8 L383.4 190.3 L384.2 191.6 L385.0 192.5 L385.8 193.3 L386.6 194.4 L387.4 195.1 L388.2 195.4 L389.0 195.9 L389.8 197.1 L411.0 197.1" fill="none" stroke="#000" stroke-width="2.0" stroke-linejoin="round"/>
</g>
<rect x="307.5" y="132.7" width="104.0" height="64.0" fill="none" stroke="#1a1a1a" stroke-width="1"/>
<path d="M304.2 196.70 h3.0 M305.2 194.14 h2.0 M305.2 191.58 h2.0 M305.2 189.02 h2.0 M305.2 186.46 h2.0 M304.2 183.90 h3.0 M305.2 181.34 h2.0 M305.2 178.78 h2.0 M305.2 176.22 h2.0 M305.2 173.66 h2.0 M304.2 171.10 h3.0 M305.2 168.54 h2.0 M305.2 165.98 h2.0 M305.2 163.42 h2.0 M305.2 160.86 h2.0 M304.2 158.30 h3.0 M305.2 155.74 h2.0 M305.2 153.18 h2.0 M305.2 150.62 h2.0 M305.2 148.06 h2.0 M304.2 145.50 h3.0 M305.2 142.94 h2.0 M305.2 140.38 h2.0 M305.2 137.82 h2.0 M305.2 135.26 h2.0 M304.2 132.70 h3.0" stroke="#111" stroke-width="0.8" fill="none"/>
<path d="M307.50 197.0 v3.0 M315.33 197.0 v1.6 M319.91 197.0 v1.6 M323.15 197.0 v1.6 M325.67 197.0 v1.6 M327.73 197.0 v1.6 M329.47 197.0 v1.6 M330.98 197.0 v1.6 M332.31 197.0 v1.6 M333.50 197.0 v3.0 M341.33 197.0 v1.6 M345.91 197.0 v1.6 M349.15 197.0 v1.6 M351.67 197.0 v1.6 M353.73 197.0 v1.6 M355.47 197.0 v1.6 M356.98 197.0 v1.6 M358.31 197.0 v1.6 M359.50 197.0 v3.0 M367.33 197.0 v1.6 M371.91 197.0 v1.6 M375.15 197.0 v1.6 M377.67 197.0 v1.6 M379.73 197.0 v1.6 M381.47 197.0 v1.6 M382.98 197.0 v1.6 M384.31 197.0 v1.6 M385.50 197.0 v3.0 M393.33 197.0 v1.6 M397.91 197.0 v1.6 M401.15 197.0 v1.6 M403.67 197.0 v1.6 M405.73 197.0 v1.6 M407.47 197.0 v1.6 M408.98 197.0 v1.6 M410.31 197.0 v1.6 M411.50 197.0 v3.2" stroke="#111" stroke-width="0.75" fill="none"/>
<text transform="translate(302.2 196.7) rotate(-90)" text-anchor="middle" font-family="Liberation Sans, Arial, sans-serif" font-size="5.9" fill="#222" stroke="#222" stroke-width="0.25">0</text>
<text transform="translate(302.2 183.9) rotate(-90)" text-anchor="middle" font-family="Liberation Sans, Arial, sans-serif" font-size="5.9" fill="#222" stroke="#222" stroke-width="0.25">20</text>
<text transform="translate(302.2 171.1) rotate(-90)" text-anchor="middle" font-family="Liberation Sans, Arial, sans-serif" font-size="5.9" fill="#222" stroke="#222" stroke-width="0.25">40</text>
<text transform="translate(302.2 158.3) rotate(-90)" text-anchor="middle" font-family="Liberation Sans, Arial, sans-serif" font-size="5.9" fill="#222" stroke="#222" stroke-width="0.25">60</text>
<text transform="translate(302.2 145.5) rotate(-90)" text-anchor="middle" font-family="Liberation Sans, Arial, sans-serif" font-size="5.9" fill="#222" stroke="#222" stroke-width="0.25">80</text>
<text transform="translate(302.2 132.7) rotate(-90)" text-anchor="middle" font-family="Liberation Sans, Arial, sans-serif" font-size="5.9" fill="#222" stroke="#222" stroke-width="0.25">100</text>
<text transform="translate(295.1 166.7) rotate(-90)" text-anchor="middle" font-family="Liberation Sans, Arial, sans-serif" font-size="6.6" fill="#222" stroke="#222" stroke-width="0.25" textLength="20" lengthAdjust="spacingAndGlyphs">Counts</text>
<text x="309.1" y="207.6" text-anchor="end" font-family="Liberation Sans, Arial, sans-serif" font-size="6.8" fill="#222" stroke="#222" stroke-width="0.25" textLength="6.0" lengthAdjust="spacingAndGlyphs">10</text>
<text x="309.4" y="203.8" text-anchor="start" font-family="Liberation Sans, Arial, sans-serif" font-size="5.9" fill="#222" stroke="#222" stroke-width="0.2">0</text>
<text x="335.1" y="207.6" text-anchor="end" font-family="Liberation Sans, Arial, sans-serif" font-size="6.8" fill="#222" stroke="#222" stroke-width="0.25" textLength="6.0" lengthAdjust="spacingAndGlyphs">10</text>
<text x="335.4" y="203.8" text-anchor="start" font-family="Liberation Sans, Arial, sans-serif" font-size="5.9" fill="#222" stroke="#222" stroke-width="0.2">1</text>
<text x="361.1" y="207.6" text-anchor="end" font-family="Liberation Sans, Arial, sans-serif" font-size="6.8" fill="#222" stroke="#222" stroke-width="0.25" textLength="6.0" lengthAdjust="spacingAndGlyphs">10</text>
<text x="361.4" y="203.8" text-anchor="start" font-family="Liberation Sans, Arial, sans-serif" font-size="5.9" fill="#222" stroke="#222" stroke-width="0.2">2</text>
<text x="387.1" y="207.6" text-anchor="end" font-family="Liberation Sans, Arial, sans-serif" font-size="6.8" fill="#222" stroke="#222" stroke-width="0.25" textLength="6.0" lengthAdjust="spacingAndGlyphs">10</text>
<text x="387.4" y="203.8" text-anchor="start" font-family="Liberation Sans, Arial, sans-serif" font-size="5.9" fill="#222" stroke="#222" stroke-width="0.2">3</text>
<text x="413.1" y="207.6" text-anchor="end" font-family="Liberation Sans, Arial, sans-serif" font-size="6.8" fill="#222" stroke="#222" stroke-width="0.25" textLength="6.0" lengthAdjust="spacingAndGlyphs">10</text>
<text x="413.4" y="203.8" text-anchor="start" font-family="Liberation Sans, Arial, sans-serif" font-size="5.9" fill="#222" stroke="#222" stroke-width="0.2">4</text>
<text x="358.5" y="213.6" text-anchor="middle" font-family="Liberation Sans, Arial, sans-serif" font-size="6.6" fill="#222" stroke="#222" stroke-width="0.25" textLength="16.4" lengthAdjust="spacingAndGlyphs">FL1-H</text></g>
<g><clipPath id="c53"><rect x="307.0" y="240.0" width="105.0" height="65.6"/></clipPath><g clip-path="url(#c53)">
<path d="M307.5 304.4 L308.3 304.4 L309.1 304.4 L309.9 304.0 L310.7 302.9 L311.5 300.7 L312.3 296.8 L313.1 291.8 L313.9 286.2 L314.7 278.0 L315.5 269.3 L316.3 258.6 L317.1 248.1 L317.9 242.0 L318.7 240.6 L319.5 240.6 L320.3 240.6 L321.1 240.6 L321.9 240.6 L322.7 243.5 L323.5 245.5 L324.3 255.7 L325.1 266.4 L325.9 276.9 L326.7 284.9 L327.5 290.9 L328.3 295.8 L329.1 298.4 L329.9 298.9 L330.7 299.0 L331.5 299.4 L332.3 299.2 L333.1 299.5 L333.9 299.7 L334.7 299.8 L335.5 300.0 L336.3 300.2 L337.1 300.3 L337.9 300.3 L338.7 300.2 L339.5 300.2 L340.3 300.2 L341.1 299.9 L341.9 299.9 L342.7 299.6 L343.5 299.3 L344.3 299.3 L345.1 300.0 L345.9 300.1 L346.7 300.3 L347.5 300.5 L348.3 300.9 L349.1 301.6 L349.9 302.2 L350.7 302.7 L351.5 303.3" fill="none" stroke="#9a9a9a" stroke-width="1.50" stroke-linejoin="round"/>
<path d="M307.5 290.1 L308.0 295.9 L308.5 299.5 L309.0 301.6 L309.5 302.8 L310.0 303.4 L310.5 303.4 L311.0 303.0 L311.5 302.1 L312.0 300.9 L312.5 299.2 L313.0 296.9 L313.5 294.1 L314.0 290.7 L314.5 286.6 L315.0 281.8 L315.5 276.5 L316.0 270.5 L316.5 264.1 L317.0 257.5 L317.5 250.7 L318.0 244.1 L318.5 240.6 L319.0 240.6 L319.5 240.6 L320.0 240.6 L320.5 240.6 L321.0 240.6 L321.5 240.6 L322.0 240.6 L322.5 240.6 L323.0 240.6 L323.5 240.6 L324.0 244.1 L324.5 250.7 L325.0 257.5 L325.5 264.1 L326.0 270.5 L326.5 276.5 L327.0 281.9 L327.5 286.6 L328.0 290.7 L328.5 294.2 L329.0 297.0 L329.5 299.3 L330.0 301.2 L330.5 302.6 L331.0 303.6 L331.5 304.3 L332.0 304.3 L332.5 304.3 L333.0 304.3 L333.5 304.3 L334.0 304.3 L334.5 304.3 L335.0 304.3 L335.5 304.3 L336.0 304.3 L336.5 304.3 L337.0 304.3 L337.5 304.3 L338.0 304.3 L338.5 304.3 L339.0 304.3 L339.5 304.3 L340.0 304.3 L340.5 304.3 L341.0 304.3 L341.5 304.3 L342.0 304.3 L342.5 304.3 L343.0 304.3 L343.5 304.3 L344.0 304.3 L344.5 304.3 L345.0 304.3 L345.5 304.3 L346.0 304.3 L346.5 304.3" fill="none" stroke="#383838" stroke-width="1.0" stroke-linejoin="round"/>
<path d="M308.4 289.5 L309.3 302.0" fill="none" stroke="#222" stroke-width="1.3"/>
<path d="M308.0 304.9 L315.0 304.9 L315.8 304.9 L316.6 304.9 L317.4 304.9 L318.2 304.9 L319.0 304.9 L319.8 304.9 L320.6 304.9 L321.4 304.9 L322.2 304.9 L323.0 304.9 L323.8 303.0 L324.6 303.4 L325.4 301.9 L326.2 301.9 L327.0 302.2 L327.8 301.0 L328.6 299.9 L329.4 298.8 L330.2 296.8 L331.0 293.7 L331.8 291.1 L332.6 288.9 L333.4 286.1 L334.2 282.8 L335.0 279.3 L335.8 275.9 L336.6 274.2 L337.4 268.3 L338.2 263.9 L339.0 259.3 L339.8 255.9 L340.6 253.3 L341.4 251.0 L342.2 248.6 L343.0 246.9 L343.8 244.7 L344.6 250.6 L345.4 248.2 L346.2 250.2 L347.0 253.8 L347.8 258.2 L348.6 266.3 L349.4 271.8 L350.2 277.2 L351.0 280.7 L351.8 286.4 L352.6 292.3 L353.4 294.2 L354.2 297.8 L355.0 300.2 L355.8 301.4 L356.6 302.7 L357.4 304.9 L411.0 304.9" fill="none" stroke="#000" stroke-width="2.0" stroke-linejoin="round"/>
</g>
<rect x="307.5" y="240.5" width="104.0" height="64.0" fill="none" stroke="#1a1a1a" stroke-width="1"/>
<path d="M304.2 304.50 h3.0 M305.2 301.94 h2.0 M305.2 299.38 h2.0 M305.2 296.82 h2.0 M305.2 294.26 h2.0 M304.2 291.70 h3.0 M305.2 289.14 h2.0 M305.2 286.58 h2.0 M305.2 284.02 h2.0 M305.2 281.46 h2.0 M304.2 278.90 h3.0 M305.2 276.34 h2.0 M305.2 273.78 h2.0 M305.2 271.22 h2.0 M305.2 268.66 h2.0 M304.2 266.10 h3.0 M305.2 263.54 h2.0 M305.2 260.98 h2.0 M305.2 258.42 h2.0 M305.2 255.86 h2.0 M304.2 253.30 h3.0 M305.2 250.74 h2.0 M305.2 248.18 h2.0 M305.2 245.62 h2.0 M305.2 243.06 h2.0 M304.2 240.50 h3.0" stroke="#111" stroke-width="0.8" fill="none"/>
<path d="M307.50 304.8 v3.0 M315.33 304.8 v1.6 M319.91 304.8 v1.6 M323.15 304.8 v1.6 M325.67 304.8 v1.6 M327.73 304.8 v1.6 M329.47 304.8 v1.6 M330.98 304.8 v1.6 M332.31 304.8 v1.6 M333.50 304.8 v3.0 M341.33 304.8 v1.6 M345.91 304.8 v1.6 M349.15 304.8 v1.6 M351.67 304.8 v1.6 M353.73 304.8 v1.6 M355.47 304.8 v1.6 M356.98 304.8 v1.6 M358.31 304.8 v1.6 M359.50 304.8 v3.0 M367.33 304.8 v1.6 M371.91 304.8 v1.6 M375.15 304.8 v1.6 M377.67 304.8 v1.6 M379.73 304.8 v1.6 M381.47 304.8 v1.6 M382.98 304.8 v1.6 M384.31 304.8 v1.6 M385.50 304.8 v3.0 M393.33 304.8 v1.6 M397.91 304.8 v1.6 M401.15 304.8 v1.6 M403.67 304.8 v1.6 M405.73 304.8 v1.6 M407.47 304.8 v1.6 M408.98 304.8 v1.6 M410.31 304.8 v1.6 M411.50 304.8 v3.2" stroke="#111" stroke-width="0.75" fill="none"/>
<text transform="translate(302.2 304.5) rotate(-90)" text-anchor="middle" font-family="Liberation Sans, Arial, sans-serif" font-size="5.9" fill="#222" stroke="#222" stroke-width="0.25">0</text>
<text transform="translate(302.2 291.7) rotate(-90)" text-anchor="middle" font-family="Liberation Sans, Arial, sans-serif" font-size="5.9" fill="#222" stroke="#222" stroke-width="0.25">20</text>
<text transform="translate(302.2 278.9) rotate(-90)" text-anchor="middle" font-family="Liberation Sans, Arial, sans-serif" font-size="5.9" fill="#222" stroke="#222" stroke-width="0.25">40</text>
<text transform="translate(302.2 266.1) rotate(-90)" text-anchor="middle" font-family="Liberation Sans, Arial, sans-serif" font-size="5.9" fill="#222" stroke="#222" stroke-width="0.25">60</text>
<text transform="translate(302.2 253.3) rotate(-90)" text-anchor="middle" font-family="Liberation Sans, Arial, sans-serif" font-size="5.9" fill="#222" stroke="#222" stroke-width="0.25">80</text>
<text transform="translate(302.2 240.5) rotate(-90)" text-anchor="middle" font-family="Liberation Sans, Arial, sans-serif" font-size="5.9" fill="#222" stroke="#222" stroke-width="0.25">100</text>
<text transform="translate(295.1 274.5) rotate(-90)" text-anchor="middle" font-family="Liberation Sans, Arial, sans-serif" font-size="6.6" fill="#222" stroke="#222" stroke-width="0.25" textLength="20" lengthAdjust="spacingAndGlyphs">Counts</text>
<text x="309.1" y="315.4" text-anchor="end" font-family="Liberation Sans, Arial, sans-serif" font-size="6.8" fill="#222" stroke="#222" stroke-width="0.25" textLength="6.0" lengthAdjust="spacingAndGlyphs">10</text>
<text x="309.4" y="311.6" text-anchor="start" font-family="Liberation Sans, Arial, sans-serif" font-size="5.9" fill="#222" stroke="#222" stroke-width="0.2">0</text>
<text x="335.1" y="315.4" text-anchor="end" font-family="Liberation Sans, Arial, sans-serif" font-size="6.8" fill="#222" stroke="#222" stroke-width="0.25" textLength="6.0" lengthAdjust="spacingAndGlyphs">10</text>
<text x="335.4" y="311.6" text-anchor="start" font-family="Liberation Sans, Arial, sans-serif" font-size="5.9" fill="#222" stroke="#222" stroke-width="0.2">1</text>
<text x="361.1" y="315.4" text-anchor="end" font-family="Liberation Sans, Arial, sans-serif" font-size="6.8" fill="#222" stroke="#222" stroke-width="0.25" textLength="6.0" lengthAdjust="spacingAndGlyphs">10</text>
<text x="361.4" y="311.6" text-anchor="start" font-family="Liberation Sans, Arial, sans-serif" font-size="5.9" fill="#222" stroke="#222" stroke-width="0.2">2</text>
<text x="387.1" y="315.4" text-anchor="end" font-family="Liberation Sans, Arial, sans-serif" font-size="6.8" fill="#222" stroke="#222" stroke-width="0.25" textLength="6.0" lengthAdjust="spacingAndGlyphs">10</text>
<text x="387.4" y="311.6" text-anchor="start" font-family="Liberation Sans, Arial, sans-serif" font-size="5.9" fill="#222" stroke="#222" stroke-width="0.2">3</text>
<text x="413.1" y="315.4" text-anchor="end" font-family="Liberation Sans, Arial, sans-serif" font-size="6.8" fill="#222" stroke="#222" stroke-width="0.25" textLength="6.0" lengthAdjust="spacingAndGlyphs">10</text>
<text x="413.4" y="311.6" text-anchor="start" font-family="Liberation Sans, Arial, sans-serif" font-size="5.9" fill="#222" stroke="#222" stroke-width="0.2">4</text>
<text x="358.5" y="321.4" text-anchor="middle" font-family="Liberation Sans, Arial, sans-serif" font-size="6.6" fill="#222" stroke="#222" stroke-width="0.25" textLength="16.4" lengthAdjust="spacingAndGlyphs">FL1-H</text></g>
<text x="105.6" y="12.8" text-anchor="middle" font-family="Liberation Serif, Times New Roman, serif" font-size="14.2" textLength="50.2" lengthAdjust="spacingAndGlyphs">Donor A</text>
<text x="356.1" y="12.8" text-anchor="middle" font-family="Liberation Serif, Times New Roman, serif" font-size="14.2" textLength="49.6" lengthAdjust="spacingAndGlyphs">Donor B</text>
<text x="0.8" y="37.6" font-family="Liberation Serif, Times New Roman, serif" font-size="16.4" font-weight="bold">A</text>
<text x="14.8" y="405.7" font-family="Liberation Serif, Times New Roman, serif" font-size="16.4" font-weight="bold">B</text>
<text x="166.6" y="36.4" font-family="Liberation Serif, Times New Roman, serif" font-size="12.4">β2-microglobulin</text>
<text x="166.6" y="50.4" font-family="Liberation Serif, Times New Roman, serif" font-size="12.4">control</text>
<text x="166.6" y="64.4" font-family="Liberation Serif, Times New Roman, serif" font-size="12.4">6Dec-MDP</text>
<text x="257.8" y="50.4" text-anchor="end" font-family="Liberation Serif, Times New Roman, serif" font-size="12.4">53.6</text>
<text x="257.8" y="64.4" text-anchor="end" font-family="Liberation Serif, Times New Roman, serif" font-size="12.4">126.2</text>
<text x="419.0" y="36.4" font-family="Liberation Serif, Times New Roman, serif" font-size="12.4">β2-microglobulin</text>
<text x="419.0" y="50.4" font-family="Liberation Serif, Times New Roman, serif" font-size="12.4">control</text>
<text x="419.0" y="64.4" font-family="Liberation Serif, Times New Roman, serif" font-size="12.4">6Dec-MDP</text>
<text x="519.6" y="50.4" text-anchor="end" font-family="Liberation Serif, Times New Roman, serif" font-size="12.4">55.5</text>
<text x="519.6" y="64.4" text-anchor="end" font-family="Liberation Serif, Times New Roman, serif" font-size="12.4">147.2</text>
<text x="166.6" y="146.0" font-family="Liberation Serif, Times New Roman, serif" font-size="12.4">HLA-DR</text>
<text x="166.6" y="160.5" font-family="Liberation Serif, Times New Roman, serif" font-size="12.4">control</text>
<text x="166.6" y="174.6" font-family="Liberation Serif, Times New Roman, serif" font-size="12.4">6Dec-MDP</text>
<text x="257.8" y="160.5" text-anchor="end" font-family="Liberation Serif, Times New Roman, serif" font-size="12.4">76.4</text>
<text x="257.8" y="174.6" text-anchor="end" font-family="Liberation Serif, Times New Roman, serif" font-size="12.4">178.6</text>
<text x="419.0" y="146.0" font-family="Liberation Serif, Times New Roman, serif" font-size="12.4">HLA-DR</text>
<text x="419.0" y="160.5" font-family="Liberation Serif, Times New Roman, serif" font-size="12.4">control</text>
<text x="419.0" y="174.6" font-family="Liberation Serif, Times New Roman, serif" font-size="12.4">6Dec-MDP</text>
<text x="519.6" y="160.5" text-anchor="end" font-family="Liberation Serif, Times New Roman, serif" font-size="12.4">55.6</text>
<text x="519.6" y="174.6" text-anchor="end" font-family="Liberation Serif, Times New Roman, serif" font-size="12.4">234.1</text>
<text x="166.6" y="254.0" font-family="Liberation Serif, Times New Roman, serif" font-size="12.4">CD83</text>
<text x="166.6" y="269.0" font-family="Liberation Serif, Times New Roman, serif" font-size="12.4">control</text>
<text x="166.6" y="283.6" font-family="Liberation Serif, Times New Roman, serif" font-size="12.4">6Dec-MDP</text>
<text x="257.8" y="269.0" text-anchor="end" font-family="Liberation Serif, Times New Roman, serif" font-size="12.4">0.7</text>
<text x="257.8" y="283.6" text-anchor="end" font-family="Liberation Serif, Times New Roman, serif" font-size="12.4">26.9</text>
<text x="419.0" y="254.0" font-family="Liberation Serif, Times New Roman, serif" font-size="12.4">CD83</text>
<text x="419.0" y="269.0" font-family="Liberation Serif, Times New Roman, serif" font-size="12.4">control</text>
<text x="419.0" y="283.6" font-family="Liberation Serif, Times New Roman, serif" font-size="12.4">6Dec-MDP</text>
<text x="510.2" y="269.0" text-anchor="end" font-family="Liberation Serif, Times New Roman, serif" font-size="12.4">0.7</text>
<text x="510.2" y="283.6" text-anchor="end" font-family="Liberation Serif, Times New Roman, serif" font-size="12.4">18.2</text>
<rect x="158.3" y="412.5" width="144.2" height="148.9" fill="none" stroke="#000" stroke-width="1.2"/>
<path d="M158.3 561.4 h-3.6 M158.3 524.2 h-3.6 M158.3 486.9 h-3.6 M158.3 449.7 h-3.6 M158.3 412.5 h-3.6 M158.3 561.4 v3.8 M187.2 561.4 v3.8 M216.0 561.4 v3.8 M244.9 561.4 v3.8 M273.7 561.4 v3.8 M302.6 561.4 v3.8" stroke="#000" stroke-width="1.2" fill="none"/>
<text x="136.9" y="565.5" text-anchor="start" font-family="Liberation Serif, Times New Roman, serif" font-size="12.8" font-weight="bold">0</text>
<text x="152.7" y="528.4" text-anchor="end" font-family="Liberation Serif, Times New Roman, serif" font-size="12.8" font-weight="bold">0.5</text>
<text x="152.7" y="491.1" text-anchor="end" font-family="Liberation Serif, Times New Roman, serif" font-size="12.8" font-weight="bold">1.0</text>
<text x="152.7" y="453.9" text-anchor="end" font-family="Liberation Serif, Times New Roman, serif" font-size="12.8" font-weight="bold">1.5</text>
<text x="152.7" y="416.7" text-anchor="end" font-family="Liberation Serif, Times New Roman, serif" font-size="12.8" font-weight="bold">2.0</text>
<text x="158.3" y="577.9" text-anchor="middle" font-family="Liberation Serif, Times New Roman, serif" font-size="12.8" font-weight="bold">0</text>
<text x="184.5" y="577.9" text-anchor="middle" font-family="Liberation Serif, Times New Roman, serif" font-size="12.8" font-weight="bold">0.5</text>
<text x="215.5" y="577.9" text-anchor="middle" font-family="Liberation Serif, Times New Roman, serif" font-size="12.8" font-weight="bold">1.0</text>
<text x="243.8" y="577.9" text-anchor="middle" font-family="Liberation Serif, Times New Roman, serif" font-size="12.8" font-weight="bold">1.5</text>
<text x="272.5" y="577.9" text-anchor="middle" font-family="Liberation Serif, Times New Roman, serif" font-size="12.8" font-weight="bold">2.0</text>
<text x="302.8" y="577.9" text-anchor="middle" font-family="Liberation Serif, Times New Roman, serif" font-size="12.8" font-weight="bold">2.5</text>
<text transform="translate(126.2 484.6) rotate(-90)" text-anchor="middle" font-family="Liberation Serif, Times New Roman, serif" font-size="12.4" font-weight="bold" textLength="61.7" lengthAdjust="spacingAndGlyphs">ABS570 nm</text>
<text x="273.8" y="593" font-family="Liberation Serif, Times New Roman, serif" font-size="12.2" font-weight="bold">(X10<tspan dy="-4" font-size="8.5">5</tspan><tspan dy="4"> : DC)</tspan></text>
<path d="M158.3 544.0 L187.4 530.8 L216.3 510.0 L245.3 503.8 L274.2 500.2" fill="none" stroke="#000" stroke-width="1.1"/>
<path d="M158.3 544.0 L187.4 516.4 L216.3 480.8 L245.3 447.6 L274.2 436.0" fill="none" stroke="#000" stroke-width="1.1"/>
<path d="M158.3 544.0 L187.4 522.8 L216.3 514.0 L245.3 506.9 L274.2 496.2" fill="none" stroke="#000" stroke-width="1.1"/>
<path d="M158.3 544.0 L187.4 522.3 L216.3 478.3 L245.3 451.8 L274.2 439.1" fill="none" stroke="#000" stroke-width="1.1"/>
<path d="M158.3 544.0 L187.4 524.3 L216.3 498.4 L245.3 460.9 L274.2 447.6" fill="none" stroke="#000" stroke-width="1.1"/>
<rect x="184.3" y="527.7" width="6.2" height="6.2" fill="#fff" stroke="#000" stroke-width="1"/>
<rect x="213.2" y="506.9" width="6.2" height="6.2" fill="#fff" stroke="#000" stroke-width="1"/>
<rect x="242.2" y="500.7" width="6.2" height="6.2" fill="#fff" stroke="#000" stroke-width="1"/>
<rect x="271.1" y="497.1" width="6.2" height="6.2" fill="#fff" stroke="#000" stroke-width="1"/>
<rect x="184.3" y="513.3" width="6.2" height="6.2" fill="#000" stroke="#000" stroke-width="1"/>
<rect x="213.2" y="477.7" width="6.2" height="6.2" fill="#000" stroke="#000" stroke-width="1"/>
<rect x="242.2" y="444.5" width="6.2" height="6.2" fill="#000" stroke="#000" stroke-width="1"/>
<rect x="271.1" y="432.9" width="6.2" height="6.2" fill="#000" stroke="#000" stroke-width="1"/>
<circle cx="187.4" cy="522.8" r="3.3" fill="#fff" stroke="#000" stroke-width="1"/>
<circle cx="216.3" cy="514.0" r="3.3" fill="#fff" stroke="#000" stroke-width="1"/>
<circle cx="245.3" cy="506.9" r="3.3" fill="#fff" stroke="#000" stroke-width="1"/>
<circle cx="274.2" cy="496.2" r="3.3" fill="#fff" stroke="#000" stroke-width="1"/>
<circle cx="187.4" cy="522.3" r="3.3" fill="#8c8c8c" stroke="#000" stroke-width="1"/>
<circle cx="216.3" cy="478.3" r="3.3" fill="#8c8c8c" stroke="#000" stroke-width="1"/>
<circle cx="245.3" cy="451.8" r="3.3" fill="#8c8c8c" stroke="#000" stroke-width="1"/>
<circle cx="274.2" cy="439.1" r="3.3" fill="#8c8c8c" stroke="#000" stroke-width="1"/>
<path d="M187.4 519.9 l4.2 7.2 h-8.4 z" fill="#000" stroke="#000" stroke-width="0.6"/>
<path d="M216.3 494.0 l4.2 7.2 h-8.4 z" fill="#000" stroke="#000" stroke-width="0.6"/>
<path d="M245.3 456.5 l4.2 7.2 h-8.4 z" fill="#000" stroke="#000" stroke-width="0.6"/>
<path d="M274.2 443.2 l4.2 7.2 h-8.4 z" fill="#000" stroke="#000" stroke-width="0.6"/>
<rect x="156.3" y="542.0" width="4" height="4" fill="#000"/>
<path d="M308 418.7 H340.5" stroke="#000" stroke-width="1.3"/>
<rect x="321.5" y="415.8" width="6.2" height="6.2" fill="#fff" stroke="#000" stroke-width="1"/>
<text x="344.7" y="423.2" font-family="Liberation Serif, Times New Roman, serif" font-size="12.4" font-weight="bold">None</text>
<path d="M308 436.0 H340.5" stroke="#000" stroke-width="1.3"/>
<rect x="321.5" y="433.1" width="6.2" height="6.2" fill="#000" stroke="#000" stroke-width="1"/>
<text x="344.7" y="438.1" font-family="Liberation Serif, Times New Roman, serif" font-size="12.4" font-weight="bold">Staph-PGN</text>
<path d="M308 451.1 H340.5" stroke="#000" stroke-width="1.3"/>
<circle cx="324.6" cy="451.3" r="3.3" fill="#fff" stroke="#000" stroke-width="1"/>
<text x="344.7" y="454.4" font-family="Liberation Serif, Times New Roman, serif" font-size="12.4" font-weight="bold">MDP</text>
<path d="M308 466.9 H340.5" stroke="#000" stroke-width="1.3"/>
<circle cx="324.6" cy="467.1" r="3.3" fill="#8c8c8c" stroke="#000" stroke-width="1"/>
<text x="344.7" y="470.1" font-family="Liberation Serif, Times New Roman, serif" font-size="12.4" font-weight="bold">6Dec-MDP</text>
<path d="M308 482.6 H340.5" stroke="#000" stroke-width="1.3"/>
<path d="M324.6 478.4 l4.2 7.2 h-8.4 z" fill="#000" stroke="#000" stroke-width="0.6"/>
<text x="344.7" y="485.5" font-family="Liberation Serif, Times New Roman, serif" font-size="12.4" font-weight="bold">6Ste-MDP</text>
</svg>
</body></html>
